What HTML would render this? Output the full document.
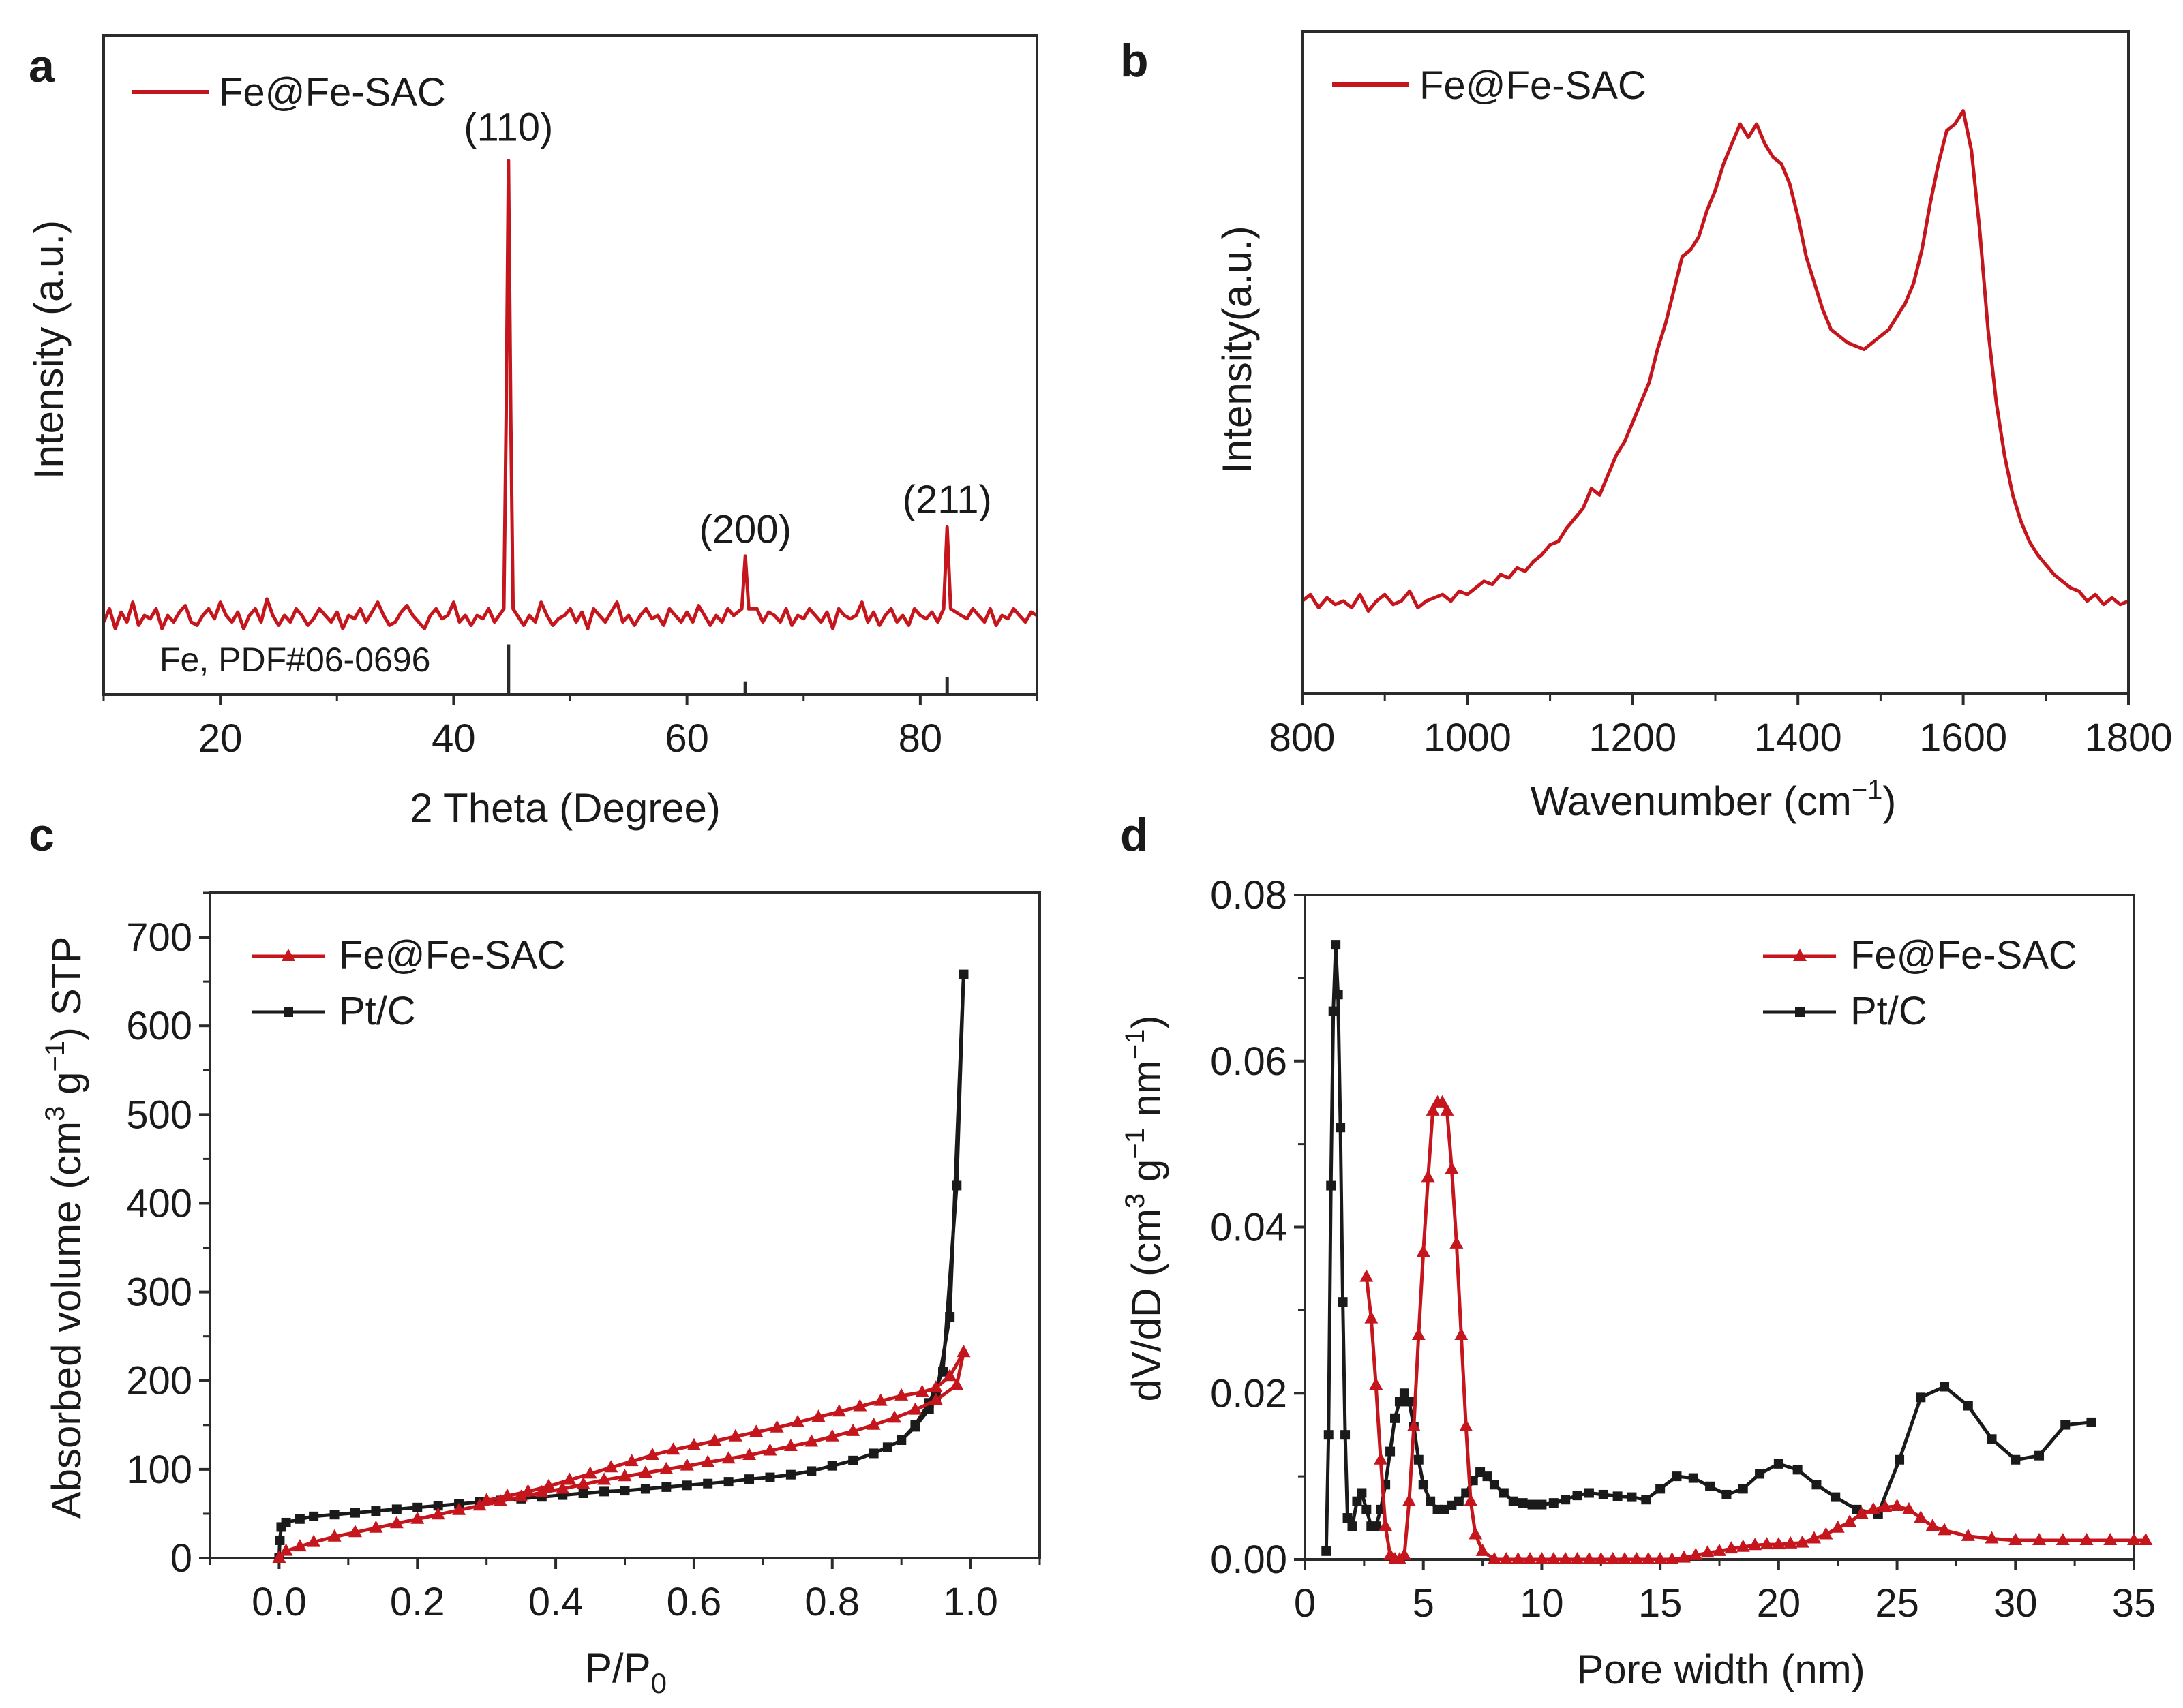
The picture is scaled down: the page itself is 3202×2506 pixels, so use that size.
<!DOCTYPE html>
<html><head><meta charset="utf-8">
<style>
html,body{margin:0;padding:0;background:#fff;}
svg{display:block;}
text{font-family:"Liberation Sans",Arial,sans-serif;fill:#1a1a1a;}
</style></head>
<body>
<svg id="fig" xmlns="http://www.w3.org/2000/svg" width="3202" height="2506" viewBox="0 0 3202 2506"></svg>
<script>
// ---------- Panel a: XRD ----------
const xrdGridStart = 10, xrdGridStep = 0.5;
const xrdBaseline = [11,13,10,12.5,11,14,10.5,12,11.5,13,10,12,11,12.5,13.5,11,10.5,12,13,11.5,14,12,11,12.5,10,12,13,11,14.5,12,10.5,12,11,13,12,10.5,11.5,13,12,11,12.5,10,12,11.5,13,11,12.5,14,12,10.5,11,12.5,13.5,12,11,10,12,13,11.5,12,14,11,12,10.5,12,11.5,13,11,12,
 11.5,12,13,10.5,12,11,14,12,10.5,11.5,12,13,11,12.5,10,13,12,11,12.5,14,11,12,10.5,12,13,11.5,12,10.5,13,12,11,12.5,11,13.5,12,10.5,12,11,13,12,11.5,10.5,12,13,11,12.5,12,11,13,10.5,12,11.5,13,12,11,12.5,10,13,12,11.5,12,14,11,12.5,10.5,12,13,11,12,10.5,13,12,11.5,12.5,11,13,12,10.5,12,11.5,13,
 12,11,13,10.5,12,11.5,13,12,11,12.5,12,11.5,13,11];
const xrdPeakTheta = [44.3,44.5,44.7,44.9,45.1, 64.7,65.0,65.3, 82.0,82.3,82.6];
const xrdPeakIntensity = [13,42,81,42,13, 13,21,13, 13,25.4,13];
const refTheta = [44.7,65.0,82.3];
const refHeight = [7.6,2.0,2.6];
const hklLabels = ["(110)","(200)","(211)"];
const hklTheta = [44.7,65.0,82.3];
const hklIntensity = [84,23,27.5];
const xrdTicks = [20,40,60,80];

// ---------- Panel b: Raman ----------
const ramanStart = 800, ramanStep = 10;
const ramanIntensity = [14,15,13,14.5,13.5,14,13,15,12.5,14,15,13.5,14,15.5,13,14,14.5,15,14,15.5,15,
 16,17,16.5,18,17.5,19,18.5,20,21,22.5,
 23,25,26.5,28,31,30,33,36,38,41,
 44,47,52,56,61,66,67,69,73,76,
 80,83,86,84,86,83,81,80,77,72,
 66,62,58,55,54,53,52.5,52,53,54,
 55,57,59,62,67,74,80,85,86,88,
 82,70,55,44,36,30,26,23,21,19.5,
 18,17,16,15.5,14,15,13.5,14.5,13.5,14];
const ramanTicks = [800,1000,1200,1400,1600,1800];

// ---------- Panel c: isotherms ----------
const ptcAdsP = [0,0.001,0.003,0.01,0.03,0.05,0.08,0.11,0.14,0.17,0.2,0.23,0.26,0.29,0.32,0.35,0.38,0.41,0.44,0.47,0.5,0.53,0.56,0.59,0.62,0.65,0.68,0.71,0.74,0.77,0.8,0.83,0.86,0.88,0.9,0.92,0.94,0.95,0.97,0.99];
const ptcAdsV = [0,20,35,40,44,47,49,51,53,55,57,59,61,63,65,67,69,71,73,75,76,78,80,82,84,86,89,91,94,98,104,110,118,125,133,148,168,182,272,658];
const ptcDesP = [0.99,0.98,0.96,0.94,0.92,0.9];
const ptcDesV = [658,420,210,175,150,133];
const feAdsP = [0,0.01,0.03,0.05,0.08,0.11,0.14,0.17,0.2,0.23,0.26,0.29,0.32,0.35,0.38,0.41,0.44,0.47,0.5,0.53,0.56,0.59,0.62,0.65,0.68,0.71,0.74,0.77,0.8,0.83,0.86,0.89,0.92,0.95,0.98,0.99];
const feAdsV = [0,8,13,18,24,29,34,39,44,49,54,59,64,69,74,78,83,88,92,96,100,104,108,112,116,121,126,131,137,143,150,158,167,178,195,232];
const feDesP = [0.99,0.97,0.95,0.93,0.9,0.87,0.84,0.81,0.78,0.75,0.72,0.69,0.66,0.63,0.6,0.57,0.54,0.51,0.48,0.45,0.42,0.39,0.36,0.33,0.3];
const feDesV = [232,205,192,187,183,177,171,165,159,153,147,142,137,132,127,122,116,109,102,95,88,81,75,70,65];
const cXTicks = [0,0.2,0.4,0.6,0.8,1.0];
const cXTickLabels = ["0.0","0.2","0.4","0.6","0.8","1.0"];
const cYTicks = [0,100,200,300,400,500,600,700];

// ---------- Panel d: pore size ----------
const ptcPoreW = [0.9,1.0,1.1,1.2,1.3,1.4,1.5,1.6,1.7,1.8,2.0,2.2,2.4,2.6,2.8,3.0,3.2,3.4,3.6,3.8,4.0,4.2,4.4,4.6,4.8,5.0,5.3,5.6,5.9,6.2,6.5,6.8,7.1,7.4,7.7,8.0,8.4,8.8,9.2,9.6,10,10.5,11,11.5,12,12.6,13.2,13.8,14.4,15,15.7,16.4,17.1,17.8,18.5,19.2,20,20.8,21.6,22.4,23.3,24.2,25.1,26,27,28,29,30,31,32.1,33.2];
const ptcDvdd = [0.001,0.015,0.045,0.066,0.074,0.068,0.052,0.031,0.015,0.005,0.004,0.007,0.008,0.006,0.004,0.004,0.006,0.009,0.013,0.017,0.019,0.020,0.019,0.016,0.012,0.009,0.007,0.006,0.006,0.0065,0.007,0.008,0.0095,0.0105,0.010,0.009,0.008,0.007,0.0068,0.0066,0.0066,0.0068,0.0072,0.0077,0.008,0.0078,0.0076,0.0075,0.0072,0.0085,0.010,0.0098,0.0088,0.0078,0.0085,0.0103,0.0115,0.0108,0.009,0.0075,0.006,0.0055,0.012,0.0195,0.0208,0.0185,0.0145,0.012,0.0125,0.0162,0.0165];
const fePoreW = [2.6,2.8,3.0,3.2,3.4,3.6,3.8,4.0,4.2,4.4,4.6,4.8,5.0,5.2,5.4,5.6,5.8,6.0,6.2,6.4,6.6,6.8,7.0,7.2,7.5,8,8.5,9,9.5,10,10.5,11,11.5,12,12.5,13,13.5,14,14.5,15,15.5,16,16.5,17,17.5,18,18.5,19,19.5,20,20.5,21,21.5,22,22.5,23,23.5,24,24.5,25,25.5,26,26.5,27,28,29,30,31,32,33,34,35,35.5];
const feDvdd = [0.034,0.029,0.021,0.012,0.004,0.0005,0,0,0.0005,0.007,0.016,0.027,0.037,0.046,0.054,0.055,0.055,0.054,0.047,0.038,0.027,0.016,0.007,0.003,0.001,0,0,0,0,0,0,0,0,0,0,0,0,0,0,0,0,0.0002,0.0005,0.0008,0.001,0.0013,0.0015,0.0017,0.0018,0.0018,0.0019,0.002,0.0025,0.003,0.0038,0.0045,0.0055,0.006,0.0063,0.0064,0.006,0.005,0.004,0.0035,0.0028,0.0025,0.0023,0.0023,0.0023,0.0023,0.0023,0.0023,0.0023];
const dXTicks = [0,5,10,15,20,25,30,35];
const dYTicks = [0,0.02,0.04,0.06,0.08];
const dYTickLabels = ["0.00","0.02","0.04","0.06","0.08"];

const NS = "http://www.w3.org/2000/svg";
const svg = document.getElementById('fig');
const RED = "#c4161c", INK = "#1a1a1a", AX = "#2b2b2b";
function mk(tag, attrs, parent){ const e=document.createElementNS(NS,tag); for(const k in attrs) e.setAttribute(k,attrs[k]); (parent||svg).appendChild(e); return e; }
function txt(s, x, y, size, anchor, parent, extra){ const t=mk('text',Object.assign({x:x,y:y,'font-size':size,'text-anchor':anchor||'start'},extra||{}),parent); t.textContent=s; return t; }
function scale(d0,d1,r0,r1){ return v => r0 + (v-d0)/(d1-d0)*(r1-r0); }

function frame(g, L,T,R,B){ mk('rect',{x:L,y:T,width:R-L,height:B-T,fill:'none',stroke:AX,'stroke-width':4},g); }

function xTicks(g, sx, B, ticks, labels, minor){
  ticks.forEach((v,i)=>{ const x=sx(v);
    const t=mk('line',{x1:x,y1:B,x2:x,y2:B+16,stroke:AX,'stroke-width':4},g);
     
    const l=txt(labels?labels[i]:String(v), x, B+84, 58, 'middle', g);
     
  });
  (minor||[]).forEach(v=>{ const x=sx(v); mk('line',{x1:x,y1:B,x2:x,y2:B+10,stroke:AX,'stroke-width':3},g); });
}
function yTicks(g, sy, L, ticks, labels, minor){
  ticks.forEach((v,i)=>{ const y=sy(v);
    const t=mk('line',{x1:L,y1:y,x2:L-16,y2:y,stroke:AX,'stroke-width':4},g);
     
    const l=txt(labels?labels[i]:String(v), L-26, y+20, 58, 'end', g);
     
  });
  (minor||[]).forEach(v=>{ const y=sy(v); mk('line',{x1:L,y1:y,x2:L-10,y2:y,stroke:AX,'stroke-width':3},g); });
}
function pathFrom(xs, ys, sx, sy){ return xs.map((x,i)=>(i?'L':'M')+sx(x).toFixed(1)+' '+sy(ys[i]).toFixed(1)).join(' '); }
function tri(g,x,y,c){ return mk('path',{d:`M${x} ${y-11} L${x+10} ${y+7} L${x-10} ${y+7} Z`,fill:c},g); }
function sq(g,x,y,c){ return mk('rect',{x:x-7,y:y-7,width:14,height:14,fill:c},g); }

// ===== Panel a =====
{
  const g=mk('g',{});  
  const L=152,R=1521,T=52,B=1019;
  const sx=scale(10,90,L,R), sy=scale(0,100,B,T);
  const pts=[];
  xrdBaseline.forEach((v,i)=>{ const th=xrdGridStart+i*xrdGridStep;
    if(th>90) return;
    const near = xrdPeakTheta.some(p=>Math.abs(p-th)<0.45);
    if(!near) pts.push([th,v]); });
  xrdPeakTheta.forEach((th,i)=>pts.push([th,xrdPeakIntensity[i]]));
  pts.sort((a,b)=>a[0]-b[0]);
  const p=mk('path',{d:pathFrom(pts.map(q=>q[0]),pts.map(q=>q[1]),sx,sy),fill:'none',stroke:RED,'stroke-width':5,'stroke-linejoin':'round'},g);
   
  refTheta.forEach((th,i)=>{ const l=mk('line',{x1:sx(th),y1:B,x2:sx(th),y2:sy(refHeight[i]),stroke:AX,'stroke-width':5},g);
      });
  hklLabels.forEach((s,i)=>{ const t=txt(s,sx(hklTheta[i]),sy(hklIntensity[i]),58,'middle',g);
      });
  const ref=txt('Fe, PDF#06-0696',234,985,50,'start',g,{fill:'#333'});
   
  frame(g,L,T,R,B);
  xTicks(g,sx,B,xrdTicks,null,[10,30,50,70,90]);
  const ll=mk('line',{x1:193,y1:135,x2:307,y2:135,stroke:RED,'stroke-width':6},g);
   
  const lt=txt('Fe@Fe-SAC',321,155,58,'start',g);  
  const xt=txt('2 Theta (Degree)',829,1206,60,'middle',g);  
  const yt=txt('Intensity (a.u.)',0,0,60,'middle',g,{transform:'translate(92,513) rotate(-90)'});  
  const pl=txt('a',42,120,68,'start',g,{'font-weight':'bold'});  
}
// ===== Panel b =====
{
  const g=mk('g',{});  
  const L=1910,R=3122,T=46,B=1018;
  const sx=scale(800,1800,L,R), sy=scale(0,100,B,T);
  const xs=ramanIntensity.map((v,i)=>ramanStart+i*ramanStep);
  const p=mk('path',{d:pathFrom(xs,ramanIntensity,sx,sy),fill:'none',stroke:RED,'stroke-width':5,'stroke-linejoin':'round'},g);
   
  frame(g,L,T,R,B);
  xTicks(g,sx,B,ramanTicks,null,[900,1100,1300,1500,1700]);
  const ll=mk('line',{x1:1954,y1:124,x2:2067,y2:124,stroke:RED,'stroke-width':6},g);
   
  const lt=txt('Fe@Fe-SAC',2082,145,58,'start',g);  
  const xt=mk('text',{x:2513,y:1196,'font-size':60,'text-anchor':'middle'},g);
  xt.innerHTML='Wavenumber (cm<tspan dy="-24" font-size="40">−1</tspan><tspan dy="24">)</tspan>';
   
  const yt=txt('Intensity(a.u.)',0,0,60,'middle',g,{transform:'translate(1835,513) rotate(-90)'});  
  const pl=txt('b',1643,112,68,'start',g,{'font-weight':'bold'});  
}
// ===== Panel c =====
{
  const g=mk('g',{});  
  const L=308,R=1525,T=1310,B=2286;
  const sx=scale(-0.1,1.1,L,R), sy=scale(0,750,B,T);
  frame(g,L,T,R,B);
  xTicks(g,sx,B,cXTicks,cXTickLabels,[-0.1,0.1,0.3,0.5,0.7,0.9,1.1]);
  yTicks(g,sy,L,cYTicks,null,[50,150,250,350,450,550,650,750]);
  const series=[[ptcAdsP,ptcAdsV,INK,'sq','ptc-adsorption'],[ptcDesP,ptcDesV,INK,'sq','ptc-desorption'],[feAdsP,feAdsV,RED,'tri','fe-adsorption'],[feDesP,feDesV,RED,'tri','fe-desorption']];
  series.forEach(s=>{
    const p=mk('path',{d:pathFrom(s[0],s[1],sx,sy),fill:'none',stroke:s[2],'stroke-width':5,'stroke-linejoin':'round'},g);
     
    s[0].forEach((x,i)=>{ const m=(s[3]==='sq'?sq:tri)(g,sx(x),sy(s[1][i]),s[2]);
        });
  });
  const l1=mk('line',{x1:369,y1:1403,x2:477,y2:1403,stroke:RED,'stroke-width':5},g);  
  tri(g,423,1403,RED);
  const t1=txt('Fe@Fe-SAC',497,1421,58,'start',g);  
  const l2=mk('line',{x1:369,y1:1485,x2:477,y2:1485,stroke:INK,'stroke-width':5},g);  
  sq(g,423,1485,INK);
  const t2=txt('Pt/C',497,1503,58,'start',g);  
  const xt=mk('text',{x:918,y:2468,'font-size':60,'text-anchor':'middle'},g);
  xt.innerHTML='P/P<tspan dy="16" font-size="42">0</tspan>';
   
  const yt=mk('text',{'font-size':60,'text-anchor':'middle',transform:'translate(118,1801) rotate(-90)'},g);
  yt.innerHTML='Absorbed volume (cm<tspan dy="-24" font-size="40">3</tspan><tspan dy="24"> g</tspan><tspan dy="-24" font-size="40">−1</tspan><tspan dy="24">) STP</tspan>';
   
  const pl=txt('c',42,1248,68,'start',g,{'font-weight':'bold'});  
}
// ===== Panel d =====
{
  const g=mk('g',{});  
  const L=1914,R=3130,T=1313,B=2288;
  const sx=scale(0,35,L,R), sy=scale(0,0.08,B,T);
  frame(g,L,T,R,B);
  xTicks(g,sx,B,dXTicks,null,[2.5,7.5,12.5,17.5,22.5,27.5,32.5]);
  yTicks(g,sy,L,dYTicks,dYTickLabels,[0.01,0.03,0.05,0.07]);
  const series=[[ptcPoreW,ptcDvdd,INK,'sq','ptc-psd'],[fePoreW,feDvdd,RED,'tri','fe-psd']];
  series.forEach(s=>{
    const p=mk('path',{d:pathFrom(s[0],s[1],sx,sy),fill:'none',stroke:s[2],'stroke-width':5,'stroke-linejoin':'round'},g);
     
    s[0].forEach((x,i)=>{ const m=(s[3]==='sq'?sq:tri)(g,sx(x),sy(s[1][i]),s[2]);
        });
  });
  const l1=mk('line',{x1:2586,y1:1403,x2:2693,y2:1403,stroke:RED,'stroke-width':5},g);  
  tri(g,2640,1403,RED);
  const t1=txt('Fe@Fe-SAC',2714,1421,58,'start',g);  
  const l2=mk('line',{x1:2586,y1:1485,x2:2693,y2:1485,stroke:INK,'stroke-width':5},g);  
  sq(g,2640,1485,INK);
  const t2=txt('Pt/C',2714,1503,58,'start',g);  
  const xt=txt('Pore width (nm)',2524,2470,60,'middle',g);  
  const yt=mk('text',{'font-size':60,'text-anchor':'middle',transform:'translate(1702,1773) rotate(-90)'},g);
  yt.innerHTML='dV/dD (cm<tspan dy="-24" font-size="40">3</tspan><tspan dy="24"> g</tspan><tspan dy="-24" font-size="40">−1</tspan><tspan dy="24"> nm</tspan><tspan dy="-24" font-size="40">−1</tspan><tspan dy="24">)</tspan>';
   
  const pl=txt('d',1643,1248,68,'start',g,{'font-weight':'bold'});  
}
</script>
</body></html>
